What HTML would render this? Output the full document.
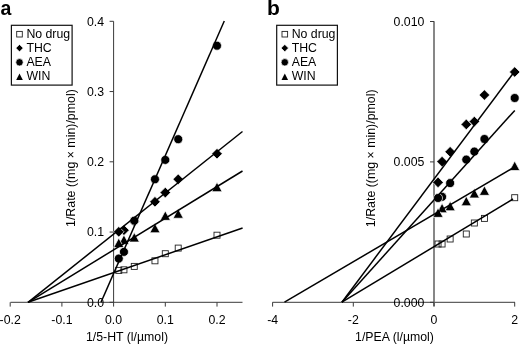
<!DOCTYPE html><html><head><meta charset="utf-8"><title>Lineweaver-Burk plots</title>
<style>html,body{margin:0;padding:0;background:#fff}svg{display:block}text{font-family:"Liberation Sans",sans-serif;fill:#000}</style></head><body>
<svg width="520" height="344" viewBox="0 0 520 344">
<rect width="520" height="344" fill="#fff"/>
<g id="panel-a">
<text x="0.5" y="14.9" font-size="19.5" font-weight="bold" fill="#000">a</text>
<rect x="11.4" y="25.3" width="60.7" height="59.8" fill="#fff" stroke="#111" stroke-width="1.2"/>
<rect x="16.7" y="31.4" width="5.6" height="5.6" fill="#fff" stroke="#222" stroke-width="0.9"/>
<polygon points="19.5,44.4 23.2,48.1 19.5,51.8 15.8,48.1" fill="#000" stroke="#fff" stroke-width="0.7"/>
<circle cx="19.5" cy="62.3" r="3.7" fill="#000" stroke="#fff" stroke-width="0.7"/>
<polygon points="19.5,73.6 22.8,79.9 16.2,79.9" fill="#000"/>
<text x="26.4" y="38.0" font-size="12.3">No drug</text>
<text x="26.4" y="52.0" font-size="12.3">THC</text>
<text x="26.4" y="66.1" font-size="12.3">AEA</text>
<text x="26.4" y="80.1" font-size="12.3">WIN</text>
<line x1="10.5" y1="302.3" x2="242.5" y2="302.3" stroke="#3a3a3a" stroke-width="1"/>
<line x1="113.6" y1="21.3" x2="113.6" y2="302.3" stroke="#3a3a3a" stroke-width="1"/>
<line x1="10.2" y1="302.3" x2="10.2" y2="306.6" stroke="#3a3a3a" stroke-width="1"/>
<text x="10.2" y="324.3" font-size="12.3" text-anchor="middle">-0.2</text>
<line x1="61.9" y1="302.3" x2="61.9" y2="306.6" stroke="#3a3a3a" stroke-width="1"/>
<text x="61.9" y="324.3" font-size="12.3" text-anchor="middle">-0.1</text>
<line x1="113.6" y1="302.3" x2="113.6" y2="306.6" stroke="#3a3a3a" stroke-width="1"/>
<text x="113.6" y="324.3" font-size="12.3" text-anchor="middle">0.0</text>
<line x1="165.3" y1="302.3" x2="165.3" y2="306.6" stroke="#3a3a3a" stroke-width="1"/>
<text x="165.3" y="324.3" font-size="12.3" text-anchor="middle">0.1</text>
<line x1="217" y1="302.3" x2="217" y2="306.6" stroke="#3a3a3a" stroke-width="1"/>
<text x="217" y="324.3" font-size="12.3" text-anchor="middle">0.2</text>
<line x1="109.6" y1="302.3" x2="113.6" y2="302.3" stroke="#3a3a3a" stroke-width="1"/>
<text x="104.0" y="306.7" font-size="12.3" text-anchor="end">0.0</text>
<line x1="109.6" y1="232.05" x2="113.6" y2="232.05" stroke="#3a3a3a" stroke-width="1"/>
<text x="104.0" y="236.45" font-size="12.3" text-anchor="end">0.1</text>
<line x1="109.6" y1="161.8" x2="113.6" y2="161.8" stroke="#3a3a3a" stroke-width="1"/>
<text x="104.0" y="166.2" font-size="12.3" text-anchor="end">0.2</text>
<line x1="109.6" y1="91.55" x2="113.6" y2="91.55" stroke="#3a3a3a" stroke-width="1"/>
<text x="104.0" y="95.95" font-size="12.3" text-anchor="end">0.3</text>
<line x1="109.6" y1="21.3" x2="113.6" y2="21.3" stroke="#3a3a3a" stroke-width="1"/>
<text x="104.0" y="25.7" font-size="12.3" text-anchor="end">0.4</text>
<text x="127" y="340.6" font-size="12.3" text-anchor="middle">1/5-HT (l/µmol)</text>
<text transform="translate(74.7,158.1) rotate(-90)" font-size="12.37" text-anchor="middle">1/Rate ((mg × min)/pmol)</text>
<rect x="214" y="232.2" width="6" height="6" fill="none" stroke="#222" stroke-width="0.9"/>
<rect x="175.22" y="245.1" width="6" height="6" fill="none" stroke="#222" stroke-width="0.9"/>
<rect x="162.3" y="250.7" width="6" height="6" fill="none" stroke="#222" stroke-width="0.9"/>
<rect x="151.96" y="257.8" width="6" height="6" fill="none" stroke="#222" stroke-width="0.9"/>
<rect x="131.28" y="263.4" width="6" height="6" fill="none" stroke="#222" stroke-width="0.9"/>
<rect x="120.94" y="266.8" width="6" height="6" fill="none" stroke="#222" stroke-width="0.9"/>
<rect x="115.77" y="267.4" width="6" height="6" fill="none" stroke="#222" stroke-width="0.9"/>
<polygon points="217,148.4 222.3,153.7 217,159 211.7,153.7" fill="#000" stroke="#fff" stroke-width="0.7"/>
<polygon points="178.22,174 183.53,179.3 178.22,184.6 172.92,179.3" fill="#000" stroke="#fff" stroke-width="0.7"/>
<polygon points="165.3,187.3 170.6,192.6 165.3,197.9 160,192.6" fill="#000" stroke="#fff" stroke-width="0.7"/>
<polygon points="154.96,196.5 160.26,201.8 154.96,207.1 149.66,201.8" fill="#000" stroke="#fff" stroke-width="0.7"/>
<polygon points="134.28,216.1 139.58,221.4 134.28,226.7 128.98,221.4" fill="#000" stroke="#fff" stroke-width="0.7"/>
<polygon points="123.94,224.9 129.24,230.2 123.94,235.5 118.64,230.2" fill="#000" stroke="#fff" stroke-width="0.7"/>
<polygon points="118.77,226.5 124.07,231.8 118.77,237.1 113.47,231.8" fill="#000" stroke="#fff" stroke-width="0.7"/>
<polygon points="217,182.2 222.1,191.64 211.9,191.64" fill="#000" stroke="#fff" stroke-width="0.7"/>
<polygon points="178.22,208.8 183.32,218.24 173.12,218.24" fill="#000" stroke="#fff" stroke-width="0.7"/>
<polygon points="165.3,210.9 170.4,220.34 160.2,220.34" fill="#000" stroke="#fff" stroke-width="0.7"/>
<polygon points="154.96,223.3 160.06,232.74 149.86,232.74" fill="#000" stroke="#fff" stroke-width="0.7"/>
<polygon points="134.28,232.6 139.38,242.03 129.18,242.03" fill="#000" stroke="#fff" stroke-width="0.7"/>
<polygon points="123.94,234.9 129.04,244.34 118.84,244.34" fill="#000" stroke="#fff" stroke-width="0.7"/>
<polygon points="118.77,238.1 123.87,247.53 113.67,247.53" fill="#000" stroke="#fff" stroke-width="0.7"/>
<circle cx="217" cy="45.7" r="4.5" fill="#000" stroke="#fff" stroke-width="0.7"/>
<circle cx="178.22" cy="139.2" r="4.5" fill="#000" stroke="#fff" stroke-width="0.7"/>
<circle cx="165.3" cy="159.9" r="4.5" fill="#000" stroke="#fff" stroke-width="0.7"/>
<circle cx="154.96" cy="179.3" r="4.5" fill="#000" stroke="#fff" stroke-width="0.7"/>
<circle cx="134.28" cy="220.7" r="4.5" fill="#000" stroke="#fff" stroke-width="0.7"/>
<circle cx="123.94" cy="251.9" r="4.5" fill="#000" stroke="#fff" stroke-width="0.7"/>
<circle cx="118.77" cy="258.6" r="4.5" fill="#000" stroke="#fff" stroke-width="0.7"/>
<line x1="28" y1="302.3" x2="242.6" y2="228" stroke="#000" stroke-width="1.5"/>
<line x1="28" y1="302.3" x2="242.5" y2="131.5" stroke="#000" stroke-width="1.5"/>
<line x1="28" y1="302.3" x2="242.5" y2="171" stroke="#000" stroke-width="1.5"/>
<line x1="101" y1="302.3" x2="224.3" y2="21" stroke="#000" stroke-width="1.5"/>
</g>
<g id="panel-b">
<text x="267" y="14.9" font-size="21" font-weight="bold" fill="#000">b</text>
<rect x="276.7" y="25.3" width="60.7" height="59.8" fill="#fff" stroke="#111" stroke-width="1.2"/>
<rect x="282" y="31.4" width="5.6" height="5.6" fill="#fff" stroke="#222" stroke-width="0.9"/>
<polygon points="284.8,44.4 288.5,48.1 284.8,51.8 281.1,48.1" fill="#000" stroke="#fff" stroke-width="0.7"/>
<circle cx="284.8" cy="62.3" r="3.7" fill="#000" stroke="#fff" stroke-width="0.7"/>
<polygon points="284.8,73.6 288.1,79.9 281.5,79.9" fill="#000"/>
<text x="291.7" y="38.0" font-size="12.3">No drug</text>
<text x="291.7" y="52.0" font-size="12.3">THC</text>
<text x="291.7" y="66.1" font-size="12.3">AEA</text>
<text x="291.7" y="80.1" font-size="12.3">WIN</text>
<line x1="272.5" y1="302.3" x2="515" y2="302.3" stroke="#3a3a3a" stroke-width="1"/>
<line x1="434.0" y1="21.3" x2="434.0" y2="306.3" stroke="#727272" stroke-width="1.7"/>
<line x1="272.6" y1="302.3" x2="272.6" y2="306.6" stroke="#3a3a3a" stroke-width="1"/>
<text x="272.6" y="324.3" font-size="12.3" text-anchor="middle">-4</text>
<line x1="353.3" y1="302.3" x2="353.3" y2="306.6" stroke="#3a3a3a" stroke-width="1"/>
<text x="353.3" y="324.3" font-size="12.3" text-anchor="middle">-2</text>
<line x1="434" y1="302.3" x2="434" y2="306.6" stroke="#3a3a3a" stroke-width="1"/>
<text x="434" y="324.3" font-size="12.3" text-anchor="middle">0</text>
<line x1="514.7" y1="302.3" x2="514.7" y2="306.6" stroke="#3a3a3a" stroke-width="1"/>
<text x="514.7" y="324.3" font-size="12.3" text-anchor="middle">2</text>
<line x1="430.0" y1="302.3" x2="434.0" y2="302.3" stroke="#3a3a3a" stroke-width="1"/>
<text x="424.4" y="306.7" font-size="12.3" text-anchor="end">0.000</text>
<line x1="430.0" y1="161.9" x2="434.0" y2="161.9" stroke="#3a3a3a" stroke-width="1"/>
<text x="424.4" y="166.3" font-size="12.3" text-anchor="end">0.005</text>
<line x1="430.0" y1="21.5" x2="434.0" y2="21.5" stroke="#3a3a3a" stroke-width="1"/>
<text x="424.4" y="25.9" font-size="12.3" text-anchor="end">0.010</text>
<text x="394.5" y="340.6" font-size="12.3" text-anchor="middle">1/PEA (l/µmol)</text>
<text transform="translate(375.3,158.3) rotate(-90)" font-size="12.37" text-anchor="middle">1/Rate ((mg × min)/pmol)</text>
<rect x="511.7" y="194.7" width="6" height="6" fill="none" stroke="#222" stroke-width="0.9"/>
<rect x="481.44" y="215.4" width="6" height="6" fill="none" stroke="#222" stroke-width="0.9"/>
<rect x="471.35" y="220" width="6" height="6" fill="none" stroke="#222" stroke-width="0.9"/>
<rect x="463.28" y="231" width="6" height="6" fill="none" stroke="#222" stroke-width="0.9"/>
<rect x="447.14" y="236" width="6" height="6" fill="none" stroke="#222" stroke-width="0.9"/>
<rect x="439.07" y="241" width="6" height="6" fill="none" stroke="#222" stroke-width="0.9"/>
<rect x="435.04" y="241" width="6" height="6" fill="none" stroke="#222" stroke-width="0.9"/>
<polygon points="514.7,66.7 520,72 514.7,77.3 509.4,72" fill="#000" stroke="#fff" stroke-width="0.7"/>
<polygon points="484.44,89.7 489.74,95 484.44,100.3 479.14,95" fill="#000" stroke="#fff" stroke-width="0.7"/>
<polygon points="474.35,116.3 479.65,121.6 474.35,126.9 469.05,121.6" fill="#000" stroke="#fff" stroke-width="0.7"/>
<polygon points="466.28,119.1 471.58,124.4 466.28,129.7 460.98,124.4" fill="#000" stroke="#fff" stroke-width="0.7"/>
<polygon points="450.14,146.5 455.44,151.8 450.14,157.1 444.84,151.8" fill="#000" stroke="#fff" stroke-width="0.7"/>
<polygon points="442.07,156.3 447.37,161.6 442.07,166.9 436.77,161.6" fill="#000" stroke="#fff" stroke-width="0.7"/>
<polygon points="438.04,177.1 443.34,182.4 438.04,187.7 432.74,182.4" fill="#000" stroke="#fff" stroke-width="0.7"/>
<polygon points="514.7,161.1 519.8,170.53 509.6,170.53" fill="#000" stroke="#fff" stroke-width="0.7"/>
<polygon points="484.44,185.9 489.54,195.34 479.34,195.34" fill="#000" stroke="#fff" stroke-width="0.7"/>
<polygon points="474.35,188.5 479.45,197.94 469.25,197.94" fill="#000" stroke="#fff" stroke-width="0.7"/>
<polygon points="466.28,196.3 471.38,205.74 461.18,205.74" fill="#000" stroke="#fff" stroke-width="0.7"/>
<polygon points="450.14,201.3 455.24,210.74 445.04,210.74" fill="#000" stroke="#fff" stroke-width="0.7"/>
<polygon points="442.07,203.3 447.17,212.74 436.97,212.74" fill="#000" stroke="#fff" stroke-width="0.7"/>
<polygon points="438.04,207.9 443.14,217.34 432.94,217.34" fill="#000" stroke="#fff" stroke-width="0.7"/>
<circle cx="514.7" cy="98" r="4.5" fill="#000" stroke="#fff" stroke-width="0.7"/>
<circle cx="484.44" cy="139" r="4.5" fill="#000" stroke="#fff" stroke-width="0.7"/>
<circle cx="474.35" cy="151.6" r="4.5" fill="#000" stroke="#fff" stroke-width="0.7"/>
<circle cx="466.28" cy="159.6" r="4.5" fill="#000" stroke="#fff" stroke-width="0.7"/>
<circle cx="450.14" cy="183.1" r="4.5" fill="#000" stroke="#fff" stroke-width="0.7"/>
<circle cx="442.07" cy="196.8" r="4.5" fill="#000" stroke="#fff" stroke-width="0.7"/>
<circle cx="438.04" cy="198" r="4.5" fill="#000" stroke="#fff" stroke-width="0.7"/>
<line x1="284.5" y1="302.2" x2="514.5" y2="167" stroke="#000" stroke-width="1.5"/>
<line x1="341.9" y1="302.2" x2="514.5" y2="71.5" stroke="#000" stroke-width="1.5"/>
<line x1="341.9" y1="302.2" x2="514.8" y2="110.4" stroke="#000" stroke-width="1.5"/>
<line x1="341.9" y1="302.2" x2="513" y2="199" stroke="#000" stroke-width="1.5"/>
</g>
</svg></body></html>
